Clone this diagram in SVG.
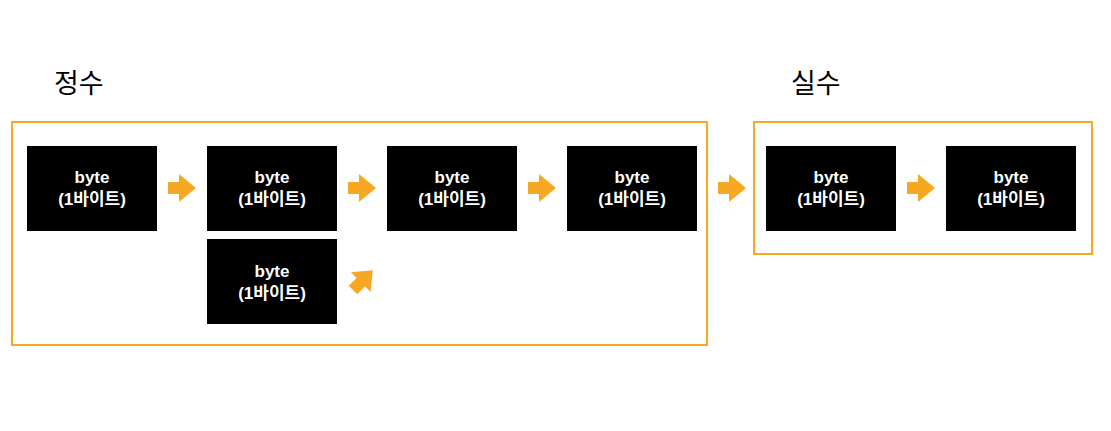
<svg xmlns="http://www.w3.org/2000/svg" width="1111" height="431" viewBox="0 0 1111 431">
<style>
.f{fill:none;stroke:#F7A823;stroke-width:2}
.b{fill:#000}
.t{fill:#fff;font-family:"Liberation Sans","Noto Sans CJK KR",sans-serif;font-weight:bold;font-size:17px;text-anchor:middle}
.h{fill:#000;font-family:"Noto Sans CJK KR",sans-serif;font-size:27px}
.a{fill:#F7A823}
</style>
<defs><path id="ar" d="M0,-6H11V-14L28,0L11,14V6H0Z"/></defs>
<rect class="f" x="12" y="122" width="695" height="223"/>
<rect class="f" x="754" y="122" width="338" height="132"/>
<text class="h" x="54" y="93">정수</text>
<text class="h" x="791" y="93">실수</text>
<g id="n1"><rect class="b" x="27" y="146" width="130" height="85"/><text class="t" x="92" y="183">byte</text><text class="t" x="92" y="205">(1바이트)</text></g>
<g id="n2"><rect class="b" x="207" y="146" width="130" height="85"/><text class="t" x="272" y="183">byte</text><text class="t" x="272" y="205">(1바이트)</text></g>
<g id="n3"><rect class="b" x="387" y="146" width="130" height="85"/><text class="t" x="452" y="183">byte</text><text class="t" x="452" y="205">(1바이트)</text></g>
<g id="n4"><rect class="b" x="567" y="146" width="130" height="85"/><text class="t" x="632" y="183">byte</text><text class="t" x="632" y="205">(1바이트)</text></g>
<g id="n5"><rect class="b" x="207" y="239" width="130" height="85"/><text class="t" x="272" y="277">byte</text><text class="t" x="272" y="299">(1바이트)</text></g>
<g id="n6"><rect class="b" x="766" y="146" width="130" height="85"/><text class="t" x="831" y="183">byte</text><text class="t" x="831" y="205">(1바이트)</text></g>
<g id="n7"><rect class="b" x="946" y="146" width="130" height="85"/><text class="t" x="1011" y="183">byte</text><text class="t" x="1011" y="205">(1바이트)</text></g>
<g id="connectors" class="a">
<use href="#ar" x="168" y="188"/>
<use href="#ar" x="348" y="188"/>
<use href="#ar" x="528" y="188"/>
<use href="#ar" x="718" y="188"/>
<use href="#ar" x="907" y="188"/>
<use href="#ar" transform="translate(353,290) rotate(-45)"/>
</g>
</svg>
